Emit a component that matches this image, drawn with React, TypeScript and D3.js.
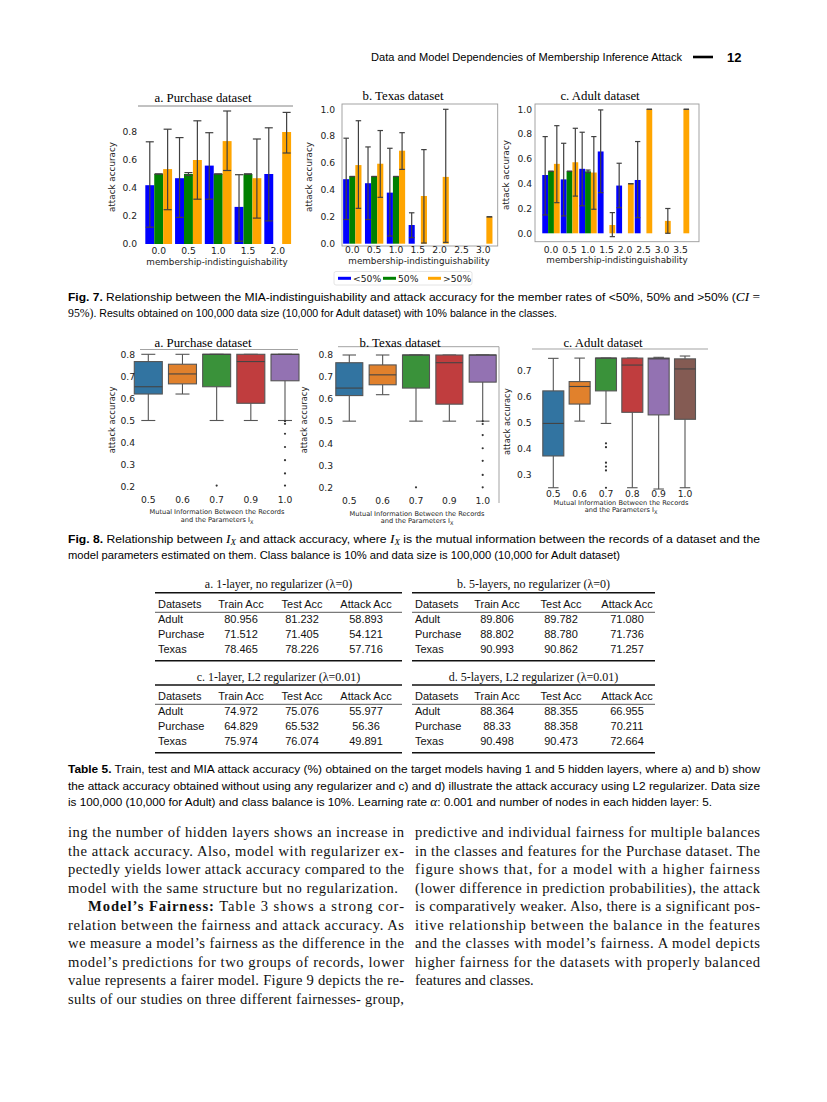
import React from "react";
import * as d3 from "d3";

const SERIF = "'Liberation Serif', 'DejaVu Serif', serif";
const SANS = "'Liberation Sans', Arial, sans-serif";
const MPL = "'DejaVu Sans', sans-serif";

// ---------------- Fig. 7 data ----------------
const memberRates = ["<50%", "50%", ">50%"];
const memberColors = ["#0000ff", "#008000", "#ffa500"];

const purchaseIndist = ["0.0", "0.5", "1.0", "1.5", "2.0"];
const purchaseBelow = [0.42, 0.47, 0.56, 0.265, 0.5];
const purchaseBelowCI = [[0.12, 0.73], [0.19, 0.76], [0.32, 0.795], [0.02, 0.495], [0.165, 0.83]];
const purchaseEqual = [0.5, 0.5, 0.5, 0.5, null];
const purchaseEqualCI = [[0.5, 0.5], [0.49, 0.51], [0.5, 0.5], [0.5, 0.5], null];
const purchaseAbove = [0.535, 0.6, 0.735, 0.47, 0.8];
const purchaseAboveCI = [[0.245, 0.82], [0.32, 0.88], [0.525, 0.95], [0.185, 0.75], [0.65, 0.94]];

const texasIndist = ["0.0", "0.5", "1.0", "1.5", "2.0", "2.5", "3.0"];
const texasBelow = [0.48, 0.45, 0.38, 0.139, null, null, null];
const texasBelowCI = [[0.18, 0.785], [0.18, 0.72], [0.057, 0.71], [0.045, 0.23], null, null, null];
const texasEqual = [0.5, 0.5, 0.5, null, null, null, null];
const texasEqualCI = [[0.5, 0.5], [0.5, 0.5], [0.5, 0.5], null, null, null, null];
const texasAbove = [0.585, 0.595, 0.692, 0.355, 0.497, null, 0.2];
const texasAboveCI = [[0.263, 0.915], [0.345, 0.842], [0.553, 0.826], [0.005, 0.7], [0.01, 1.0], null, [0.2, 0.2]];

const adultIndist = ["0.0", "0.5", "1.0", "1.5", "2.0", "2.5", "3.0", "3.5"];
const adultBelow = [0.47, 0.435, 0.52, 0.66, 0.385, 0.43, null, null];
const adultBelowCI = [[0.148, 0.78], [0.14, 0.726], [0.222, 0.815], [0.328, 0.995], [0.207, 0.565], [0.126, 0.74], null, null];
const adultEqual = [0.5, 0.5, 0.5, null, null, null, null, null];
const adultEqualCI = [[0.5, 0.5], [0.5, 0.5], [0.49, 0.51], null, null, null, null, null];
const adultAbove = [0.56, 0.573, 0.49, 0.067, 0.4, 1.0, 0.1, 1.0];
const adultAboveCI = [[0.247, 0.868], [0.3, 0.847], [0.194, 0.78], [-0.027, 0.167], [0.4, 0.4], [1, 1], [0, 0.2], [1, 1]];

const purchaseAccTicks = [0, 0.2, 0.4, 0.6, 0.8];
const fullAccTicks = [0, 0.2, 0.4, 0.6, 0.8, 1.0];

// ---------------- Fig. 8 data ----------------
const boxColors = ["#3274a1", "#e1812c", "#3a923a", "#c03d3e", "#9372b2", "#845b53"];
const mutualInfoPT = ["0.5", "0.6", "0.7", "0.9", "1.0"];
const mutualInfoAdult = ["0.5", "0.6", "0.7", "0.8", "0.9", "1.0"];
// [lower whisker, Q1, median, Q3, upper whisker]
const purchaseBoxes = [
  [0.5, 0.62, 0.653, 0.767, 0.8],
  [0.62, 0.666, 0.711, 0.755, 0.8],
  [0.5, 0.653, 0.8, 0.8, 0.8],
  [0.5, 0.578, 0.767, 0.8, 0.8],
  [0.5, 0.68, 0.8, 0.8, 0.8],
];
const purchaseFliers = [[], [], [0.205], [], [0.497, 0.485, 0.44, 0.38, 0.32, 0.26, 0.205]];
const texasBoxes = [
  [0.5, 0.616, 0.65, 0.765, 0.8],
  [0.62, 0.665, 0.71, 0.755, 0.8],
  [0.5, 0.65, 0.8, 0.8, 0.8],
  [0.5, 0.577, 0.765, 0.8, 0.8],
  [0.5, 0.677, 0.8, 0.8, 0.8],
];
const texasFliers = [[], [], [0.2], [], [0.5, 0.487, 0.437, 0.377, 0.32, 0.256, 0.2]];
const adultBoxes = [
  [0.248, 0.371, 0.497, 0.623, 0.749],
  [0.506, 0.572, 0.64, 0.659, 0.75],
  [0.497, 0.623, 0.75, 0.75, 0.75],
  [0.248, 0.54, 0.723, 0.75, 0.75],
  [0.243, 0.53, 0.747, 0.75, 0.753],
  [0.248, 0.513, 0.708, 0.747, 0.758],
];
const adultFliers = [[], [], [0.42, 0.405, 0.345, 0.33, 0.315, 0.248], [], [], []];
const ptAccTicks = [0.2, 0.3, 0.4, 0.5, 0.6, 0.7, 0.8];
const adultAccTicks = [0.3, 0.4, 0.5, 0.6, 0.7];

// ---------------- Table 5 data ----------------
const tableHeaders = ["Datasets", "Train Acc", "Test Acc", "Attack Acc"];
const tableDatasets = ["Adult", "Purchase", "Texas"];
const tableTitles = [
  "a. 1-layer, no regularizer (\u03bb=0)",
  "b. 5-layers, no regularizer (\u03bb=0)",
  "c. 1-layer, L2 regularizer (\u03bb=0.01)",
  "d. 5-layers, L2 regularizer (\u03bb=0.01)",
];
const tableA = [["80.956", "81.232", "58.893"], ["71.512", "71.405", "54.121"], ["78.465", "78.226", "57.716"]];
const tableB = [["89.806", "89.782", "71.080"], ["88.802", "88.780", "71.736"], ["90.993", "90.862", "71.257"]];
const tableC = [["74.972", "75.076", "55.977"], ["64.829", "65.532", "56.36"], ["75.974", "76.074", "49.891"]];
const tableD = [["88.364", "88.355", "66.955"], ["88.33", "88.358", "70.211"], ["90.498", "90.473", "72.664"]];

// ---------------- Body text ----------------
const leftColumn = [
  "ing the number of hidden layers shows an increase in",
  "the attack accuracy. Also, model with regularizer ex-",
  "pectedly yields lower attack accuracy compared to the",
  "model with the same structure but no regularization.",
  "",
  "relation between the fairness and attack accuracy. As",
  "we measure a model\u2019s fairness as the difference in the",
  "model\u2019s predictions for two groups of records, lower",
  "value represents a fairer model. Figure 9 depicts the re-",
  "sults of our studies on three different fairnesses- group,",
];
const rightColumn = [
  "predictive and individual fairness for multiple balances",
  "in the classes and features for the Purchase dataset. The",
  "figure shows that, for a model with a higher fairness",
  "(lower difference in prediction probabilities), the attack",
  "is comparatively weaker. Also, there is a significant pos-",
  "itive relationship between the balance in the features",
  "and the classes with model\u2019s fairness. A model depicts",
  "higher fairness for the datasets with properly balanced",
  "features and classes.",
];

const fmt1 = d3.format(".1f");

function BarPanel({ title, cats, vals, cis, ticks, L }: any) {
  const x = d3.scaleLinear().domain([0, cats.length - 1]).range(L.cx);
  const step = (L.cx[1] - L.cx[0]) / (cats.length - 1);
  const bw = step * L.barFrac;
  const y = d3.scaleLinear().domain(L.yDom).range(L.yRange);
  const marks: any[] = [];
  const errs: any[] = [];
  vals.forEach((series: (number | null)[], s: number) => {
    series.forEach((v, i) => {
      if (v === null) return;
      const left = x(i) + (s - 1.5) * bw;
      marks.push(
        <rect key={`b${s}-${i}`} x={left} y={y(v)} width={bw} height={y(0) - y(v)} fill={memberColors[s]} />
      );
      const ci = cis[s][i];
      if (ci) {
        const c = left + bw / 2;
        const cw = bw * 0.45;
        errs.push(
          <g key={`e${s}-${i}`} stroke="#404040" strokeWidth={1.2}>
            <line x1={c} x2={c} y1={y(ci[0])} y2={y(ci[1])} />
            <line x1={c - cw} x2={c + cw} y1={y(ci[0])} y2={y(ci[0])} />
            <line x1={c - cw} x2={c + cw} y1={y(ci[1])} y2={y(ci[1])} />
          </g>
        );
      }
    });
  });
  return (
    <g>
      {L.frame && (
        <rect x={L.frame[0]} y={L.frame[2]} width={L.frame[1] - L.frame[0]} height={L.frame[3] - L.frame[2]}
          fill="none" stroke="#9a9a9a" strokeWidth={0.9} />
      )}
      {L.underline && (
        <line x1={L.underline[0]} x2={L.underline[1]} y1={L.underline[2]} y2={L.underline[2]} stroke="#777" strokeWidth={0.9} />
      )}
      <text x={L.title[0]} y={L.title[1]} textAnchor="middle" fontFamily={SERIF} fontSize={12.8}>{title}</text>
      {marks}
      {errs}
      {ticks.map((t: number) => (
        <text key={t} x={L.tickX} y={y(t) + 3.3} textAnchor="end" fontFamily={MPL} fontSize={9.2} fill="#222">{fmt1(t)}</text>
      ))}
      {cats.map((c: string, i: number) => (
        <text key={c} x={x(i)} y={L.xtickY} textAnchor="middle" fontFamily={MPL} fontSize={9.2} fill="#222">{c}</text>
      ))}
      <text x={L.xlabX} y={L.xlabY} textAnchor="middle" fontFamily={MPL} fontSize={8.8} fill="#222">membership-indistinguishability</text>
      <text transform={`translate(${L.ylab[0]},${L.ylab[1]}) rotate(-90)`} textAnchor="middle" fontFamily={MPL} fontSize={8.8} fill="#222">attack accuracy</text>
    </g>
  );
}

function BoxPanel({ title, cats, boxes, fliers, ticks, L }: any) {
  const x = d3.scaleLinear().domain([0, cats.length - 1]).range(L.cx);
  const y = d3.scaleLinear().domain(L.yDom).range(L.yRange);
  const bw = L.boxW;
  const lc = "#555";
  return (
    <g>
      {L.lines && L.lines.map((l: number[], k: number) => (
        <line key={k} x1={l[0]} y1={l[1]} x2={l[2]} y2={l[3]} stroke="#999" strokeWidth={0.9} />
      ))}
      <text x={L.title[0]} y={L.title[1]} textAnchor="middle" fontFamily={SERIF} fontSize={12.8}>{title}</text>
      {boxes.map((b: number[], i: number) => {
        const cx = x(i);
        return (
          <g key={i}>
            <line x1={cx} x2={cx} y1={y(b[0])} y2={y(b[1])} stroke={lc} strokeWidth={1.1} />
            <line x1={cx} x2={cx} y1={y(b[3])} y2={y(b[4])} stroke={lc} strokeWidth={1.1} />
            <line x1={cx - bw / 4} x2={cx + bw / 4} y1={y(b[0])} y2={y(b[0])} stroke={lc} strokeWidth={1.1} />
            <line x1={cx - bw / 4} x2={cx + bw / 4} y1={y(b[4])} y2={y(b[4])} stroke={lc} strokeWidth={1.1} />
            <rect x={cx - bw / 2} y={y(b[3])} width={bw} height={Math.max(0.5, y(b[1]) - y(b[3]))}
              fill={boxColors[i]} stroke={lc} strokeWidth={1.1} />
            <line x1={cx - bw / 2} x2={cx + bw / 2} y1={y(b[2])} y2={y(b[2])} stroke="#444" strokeWidth={1.1} />
            {fliers[i].map((f: number, k: number) => (
              <circle key={k} cx={cx} cy={y(f)} r={1.1} fill="#333" />
            ))}
          </g>
        );
      })}
      {ticks.map((t: number) => (
        <text key={t} x={L.tickX} y={y(t) + 3.3} textAnchor="end" fontFamily={MPL} fontSize={9.2} fill="#222">{fmt1(t)}</text>
      ))}
      {cats.map((c: string, i: number) => (
        <text key={c} x={x(i)} y={L.xtickY} textAnchor="middle" fontFamily={MPL} fontSize={9.2} fill="#222">{c}</text>
      ))}
      <text x={L.xlabX} y={L.xlabY[0]} textAnchor="middle" fontFamily={MPL} fontSize={6.6} fill="#222">Mutual Information Between the Records</text>
      <text x={L.xlabX} y={L.xlabY[1]} textAnchor="middle" fontFamily={MPL} fontSize={6.6} fill="#222">
        and the Parameters I<tspan fontSize={5} dy={2}>X</tspan>
      </text>
      <text transform={`translate(${L.ylab[0]},${L.ylab[1]}) rotate(-90)`} textAnchor="middle" fontFamily={MPL} fontSize={8.4} fill="#222">attack accuracy</text>
    </g>
  );
}

function Table({ title, rows, x0, x1, cols, ys }: any) {
  return (
    <g fontFamily={SANS} fontSize={11} fill="#111">
      <text x={(x0 + x1) / 2} y={ys.title} textAnchor="middle" fontFamily={SERIF} fontSize={12}>{title}</text>
      <line x1={x0} x2={x1} y1={ys.top} y2={ys.top} stroke="#111" strokeWidth={1.5} />
      <line x1={x0} x2={x1} y1={ys.mid} y2={ys.mid} stroke="#111" strokeWidth={0.7} />
      <line x1={x0} x2={x1} y1={ys.bottom} y2={ys.bottom} stroke="#111" strokeWidth={1.5} />
      {tableHeaders.map((h, j) => (
        <text key={h} x={cols[j]} y={ys.header} textAnchor={j === 0 ? "start" : "middle"}>{h}</text>
      ))}
      {tableDatasets.map((d, i) => (
        <g key={d}>
          <text x={cols[0]} y={ys.rows[i]}>{d}</text>
          {rows[i].map((v: string, j: number) => (
            <text key={j} x={cols[j + 1]} y={ys.rows[i]} textAnchor="middle">{v}</text>
          ))}
        </g>
      ))}
    </g>
  );
}

export default function App() {
  const capSize = 10.8;
  const bodySize = 14.6;
  const lineStep = 18.55;
  const tabTop = { title: 588, top: 592.7, header: 607.7, mid: 612.3, rows: [623, 638, 653], bottom: 660.7 };
  const tabBot = { title: 681, top: 685, header: 699.7, mid: 704.3, rows: [715.2, 730.2, 745.2], bottom: 752.7 };
  return (
    <div style={{ position: "absolute", left: 0, top: 0, width: 827, height: 1102, background: "#fff" }}>
      <svg width={827} height={1102} viewBox="0 0 827 1102" style={{ display: "block" }}>
        <rect width={827} height={1102} fill="#fff" />
        {/* running header */}
        <text x={682} y={61} textAnchor="end" fontFamily={SANS} fontSize={10.6} textLength={311} lengthAdjust="spacingAndGlyphs">
          Data and Model Dependencies of Membership Inference Attack
        </text>
        <line x1={693} x2={713} y1={57} y2={57} stroke="#000" strokeWidth={2.6} />
        <text x={727} y={62} fontFamily={SANS} fontWeight="bold" fontSize={13}>12</text>

        {/* Fig 7 */}
        <BarPanel title="a. Purchase dataset" cats={purchaseIndist}
          vals={[purchaseBelow, purchaseEqual, purchaseAbove]} cis={[purchaseBelowCI, purchaseEqualCI, purchaseAboveCI]}
          ticks={purchaseAccTicks}
          L={{ cx: [158.7, 277.7], barFrac: 0.3, yDom: [0, 0.8], yRange: [244, 132], tickX: 137, ylab: [115, 177],
            xtickY: 253.5, xlabY: 264.5, xlabX: 217, title: [203, 101.5], underline: [138, 293, 106] }} />
        <BarPanel title="b. Texas dataset" cats={texasIndist}
          vals={[texasBelow, texasEqual, texasAbove]} cis={[texasBelowCI, texasEqualCI, texasAboveCI]}
          ticks={fullAccTicks}
          L={{ cx: [352.3, 483.3], barFrac: 0.28, yDom: [0, 1], yRange: [243.7, 109.3], tickX: 335, ylab: [312, 177],
            xtickY: 253, xlabY: 263.5, xlabX: 419, title: [403, 99.5], frame: [342, 497.7, 104, 246] }} />
        <BarPanel title="c. Adult dataset" cats={adultIndist}
          vals={[adultBelow, adultEqual, adultAbove]} cis={[adultBelowCI, adultEqualCI, adultAboveCI]}
          ticks={fullAccTicks}
          L={{ cx: [551, 680.5], barFrac: 0.315, yDom: [0, 1], yRange: [233.3, 109.3], tickX: 532, ylab: [509, 175],
            xtickY: 252.5, xlabY: 262.5, xlabX: 617, title: [600, 100], frame: [535, 699, 104, 241.7] }} />

        {/* legend */}
        <g fontFamily={MPL} fontSize={9.2}>
          <rect x={334} y={271.5} width={138} height={13.5} rx={2} fill="#fff" stroke="#ddd" strokeWidth={0.8} />
          {memberRates.map((m, i) => {
            const lx = 338 + i * 45;
            return (
              <g key={m}>
                <line x1={lx} x2={lx + 13} y1={278.3} y2={278.3} stroke={memberColors[i]} strokeWidth={3} />
                <text x={lx + 15} y={281.6} fill="#222">{m}</text>
              </g>
            );
          })}
        </g>

        {/* Fig 7 caption */}
        <text x={68} y={301} fontFamily={SANS} fontSize={capSize} textLength={692} lengthAdjust="spacingAndGlyphs">
          <tspan fontWeight="bold">Fig. 7.</tspan> Relationship between the MIA-indistinguishability and attack accuracy for the member rates of {"<"}50%, 50% and {">"}50% (<tspan fontFamily={SERIF} fontStyle="italic" fontSize={12}>CI</tspan><tspan fontFamily={SERIF} fontSize={12}> =</tspan>
        </text>
        <text x={68} y={317} fontFamily={SANS} fontSize={capSize} textLength={489} lengthAdjust="spacingAndGlyphs">
          <tspan fontFamily={SERIF} fontSize={12}>95%)</tspan>. Results obtained on 100,000 data size (10,000 for Adult dataset) with 10% balance in the classes.
        </text>

        {/* Fig 8 */}
        <BoxPanel title="a. Purchase dataset" cats={mutualInfoPT} boxes={purchaseBoxes} fliers={purchaseFliers} ticks={ptAccTicks}
          L={{ cx: [148.3, 285], boxW: 28, yDom: [0.2, 0.8], yRange: [486.7, 354.3], tickX: 135, ylab: [115, 420],
            xtickY: 502.5, xlabY: [514, 521.5], xlabX: 217, title: [203, 347], lines: [[140, 349.5, 298, 349.5]] }} />
        <BoxPanel title="b. Texas dataset" cats={mutualInfoPT} boxes={texasBoxes} fliers={texasFliers} ticks={ptAccTicks}
          L={{ cx: [349.3, 482.7], boxW: 27, yDom: [0.2, 0.8], yRange: [487.3, 355], tickX: 333, ylab: [307, 420],
            xtickY: 504, xlabY: [515.5, 523], xlabX: 417, title: [400, 347], lines: [[338, 346.7, 499, 346.7], [499, 346.7, 499, 503]] }} />
        <BoxPanel title="c. Adult dataset" cats={mutualInfoAdult} boxes={adultBoxes} fliers={adultFliers} ticks={adultAccTicks}
          L={{ cx: [553.3, 685], boxW: 21, yDom: [0.3, 0.7], yRange: [474.3, 371], tickX: 531.7, ylab: [510, 421.7],
            xtickY: 496.5, xlabY: [505, 512], xlabX: 621, title: [603, 346.5], lines: [[532, 349, 708, 349]] }} />

        {/* Fig 8 caption */}
        <text x={68} y={543} fontFamily={SANS} fontSize={capSize} textLength={692} lengthAdjust="spacingAndGlyphs">
          <tspan fontWeight="bold">Fig. 8.</tspan> Relationship between <tspan fontFamily={SERIF} fontStyle="italic" fontSize={12}>I</tspan><tspan fontFamily={SERIF} fontStyle="italic" fontSize={8} dy={2}>X</tspan><tspan dy={-2}> and attack accuracy, where </tspan><tspan fontFamily={SERIF} fontStyle="italic" fontSize={12}>I</tspan><tspan fontFamily={SERIF} fontStyle="italic" fontSize={8} dy={2}>X</tspan><tspan dy={-2}> is the mutual information between the records of a dataset and the</tspan>
        </text>
        <text x={68} y={559} fontFamily={SANS} fontSize={capSize} textLength={552} lengthAdjust="spacingAndGlyphs">
          model parameters estimated on them. Class balance is 10% and data size is 100,000 (10,000 for Adult dataset)
        </text>

        {/* Table 5 */}
        <Table title={tableTitles[0]} rows={tableA} x0={155} x1={402} cols={[158, 241, 302, 366]} ys={tabTop} />
        <Table title={tableTitles[1]} rows={tableB} x0={412} x1={655} cols={[415, 497, 561, 627]} ys={tabTop} />
        <Table title={tableTitles[2]} rows={tableC} x0={155} x1={402} cols={[158, 241, 302, 366]} ys={tabBot} />
        <Table title={tableTitles[3]} rows={tableD} x0={412} x1={655} cols={[415, 497, 561, 627]} ys={tabBot} />

        {/* Table caption */}
        <text x={68} y={773} fontFamily={SANS} fontSize={capSize} textLength={692} lengthAdjust="spacingAndGlyphs">
          <tspan fontWeight="bold">Table 5.</tspan> Train, test and MIA attack accuracy (%) obtained on the target models having 1 and 5 hidden layers, where a) and b) show
        </text>
        <text x={68} y={790} fontFamily={SANS} fontSize={capSize} textLength={692} lengthAdjust="spacingAndGlyphs">
          the attack accuracy obtained without using any regularizer and c) and d) illustrate the attack accuracy using L2 regularizer. Data size
        </text>
        <text x={68} y={806} fontFamily={SANS} fontSize={capSize} textLength={644} lengthAdjust="spacingAndGlyphs">
          is 100,000 (10,000 for Adult) and class balance is 10%. Learning rate <tspan fontFamily={SERIF} fontStyle="italic" fontSize={12}>{"\u03b1"}</tspan>: 0.001 and number of nodes in each hidden layer: 5.
        </text>

        {/* Body text */}
        <g fontFamily={SERIF} fontSize={bodySize} fill="#111">
          {leftColumn.map((ln, i) => {
            const yy = 837 + i * lineStep;
            if (i === 4) {
              return (
                <text key={i} x={88} y={yy} textLength={316} lengthAdjust="spacing">
                  <tspan fontWeight="bold">Model{"\u2019"}s Fairness:</tspan> Table 3 shows a strong cor-
                </text>
              );
            }
            return (
              <text key={i} x={68} y={yy} textLength={i === 3 ? 330 : 336} lengthAdjust="spacing">{ln}</text>
            );
          })}
          {rightColumn.map((ln, i) => (
            i === 8
              ? <text key={i} x={415} y={837 + i * lineStep}>{ln}</text>
              : <text key={i} x={415} y={837 + i * lineStep} textLength={345} lengthAdjust="spacing">{ln}</text>
          ))}
        </g>
      </svg>
    </div>
  );
}
